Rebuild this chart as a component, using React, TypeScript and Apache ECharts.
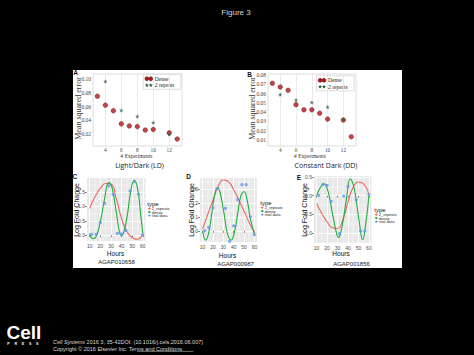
import React, { useEffect, useRef } from "react";
import * as echarts from "echarts";

// ---------- Panels A / B : mean squared error vs # experiments ----------
const experiments = [3, 4, 5, 6, 7, 8, 9, 10, 12, 13];
const denseLD = [0.075, 0.062, 0.054, 0.035, 0.032, 0.031, 0.026, 0.027, 0.022, 0.013];
const denseDD = [0.071, 0.067, 0.0635, 0.048, 0.0425, 0.0425, 0.0388, 0.0325, 0.0315, 0.0135];
const repeatExperiments = [4, 6, 8, 10, 12];
const repeatsLD = [0.0965, 0.0545, 0.046, 0.037, 0.02];
const repeatsDD = [0.059, 0.053, 0.0505, 0.0455, 0.0323];
const experimentTicks = [4, 6, 8, 10, 12];
const mseTicksLD = [0.02, 0.04, 0.06, 0.08, 0.1];
const mseTicksDD = [0.01, 0.02, 0.03, 0.04, 0.05, 0.06, 0.07, 0.08];

// ---------- Panels C / D / E : log fold change vs hours ----------
const hourTicks = [10, 20, 30, 40, 50, 60];
const hourMinorTicks = [15, 25, 35, 45, 55];

// C  AGAP010658
const cRealHours = [12, 16, 20, 24, 28, 32, 36, 40, 44, 48, 52, 56, 60];
const cRealValues = [0.03, 0.03, 0.44, 1.1, 1.71, 1.41, 0.06, 0.05, 0.17, 1.53, 1.85, 1.41, 0.02];
const cRepeatHours = [10, 15, 20, 25, 30, 35, 40, 45, 50, 55, 60];
const cRepeatValues = [0.93, 1.33, 1.62, 1.79, 1.77, 1.27, 0.58, 0.12, -0.09, -0.14, 0.06];
const cDenseHours = [10, 13, 16, 20, 24, 28, 31, 35, 38, 40, 42, 45, 49, 52, 55, 58, 60];
const cDenseValues = [0.06, -0.12, -0.05, 0.46, 1.25, 1.82, 1.65, 0.81, 0.12, -0.02, 0.1, 0.6, 1.6, 1.9, 1.62, 0.7, 0.06];

// D  AGAP000987
const dRealHours = [12, 16, 20, 24, 32, 36, 40, 44, 48, 52, 56, 60];
const dRealValues = [0.0, 0.024, 0.165, 0.3, 0.16, -0.075, 0.035, 0.223, 0.33, 0.33, 0.099, -0.028];
const dRepeatHours = [10, 15, 20, 25, 30, 35, 40, 45, 50, 55, 60];
const dRepeatValues = [0.012, 0.118, 0.22, 0.317, 0.364, 0.352, 0.294, 0.22, 0.14, 0.06, -0.01];
const dDenseHours = [10, 13, 16, 19, 22, 24.5, 27, 31, 34, 37.5, 41, 44, 47, 50, 53, 56, 60];
const dDenseValues = [0.0, -0.066, -0.01, 0.13, 0.27, 0.31, 0.27, 0.11, -0.02, -0.066, 0.0, 0.13, 0.25, 0.28, 0.22, 0.09, -0.023];

// E  AGAP001856
const eRealHours = [12, 16, 20, 24, 32, 36, 40, 48, 52, 56, 60];
const eRealValues = [0.01, 0.3, 0.28, -0.15, -1.02, -0.01, 0.25, -0.11, -0.95, -0.95, 0.03];
const eRepeatHours = [10, 15, 20, 25, 30, 35, 40, 45, 50, 55, 60];
const eRepeatValues = [-0.21, -0.48, -0.7, -0.86, -0.88, -0.66, -0.17, 0.23, 0.37, 0.32, 0.05];
const eDenseHours = [10, 14, 17, 20, 23, 26, 29, 31, 33, 36, 39, 42, 45, 48, 51, 54, 57, 60];
const eDenseValues = [0.0, 0.24, 0.32, 0.2, -0.15, -0.6, -1.0, -1.12, -1.0, -0.55, 0.0, 0.45, 0.3, -0.15, -0.75, -1.18, -0.75, 0.0];

const RED = "#ea6a60";
const GREEN = "#1fae3a";
const BLUE = "#5f95f5";
const SERIF = "Liberation Serif";
const SANS = "Liberation Sans";
const STAR =
  "path://M0,-10L2.35,-3.24L9.51,-3.09L3.8,1.24L5.88,8.09L0,4L-5.88,8.09L-3.8,1.24L-9.51,-3.09L-2.35,-3.24Z";

const pairs = (xs: number[], ys: number[]) => xs.map((x, i) => [x, ys[i]]);

function starPoints(cx: number, cy: number, r: number) {
  const pts: number[][] = [];
  for (let k = 0; k < 10; k++) {
    const rad = k % 2 === 0 ? r : r * 0.42;
    const a = -Math.PI / 2 + (k * Math.PI) / 5;
    pts.push([cx + rad * Math.cos(a), cy + rad * Math.sin(a)]);
  }
  return pts;
}

function mseXAxis(gridIndex: number) {
  return {
    type: "value",
    gridIndex,
    min: 2.45,
    max: 13.6,
    axisLine: { show: false },
    axisTick: { show: false, customValues: experimentTicks },
    axisLabel: { customValues: experimentTicks, fontSize: 5.3, color: "#444", fontFamily: SERIF, margin: 1 },
    splitLine: { show: true, lineStyle: { color: "#e4e4e4", width: 0.8 } },
  };
}
function mseYAxis(gridIndex: number, min: number, max: number, ticks: number[]) {
  return {
    type: "value",
    gridIndex,
    min,
    max,
    axisLine: { show: false },
    axisTick: { show: false, customValues: ticks },
    axisLabel: {
      customValues: ticks,
      fontSize: 5.5,
      color: "#444",
      fontFamily: SERIF,
      margin: 2,
      formatter: (v: number) => v.toFixed(2),
    },
    splitLine: { show: false },
  };
}
function hoursAxes(gridIndex: number) {
  return [
    {
      type: "value",
      gridIndex,
      min: 7.5,
      max: 62.5,
      axisLine: { show: false },
      axisTick: { show: true, customValues: hourTicks, length: 2, lineStyle: { color: "#333", width: 0.6 } },
      axisLabel: { customValues: hourTicks, fontSize: 5, color: "#4d4d4d", fontFamily: SANS, margin: 2 },
      splitLine: { show: true, lineStyle: { color: "#fff", width: 0.9 } },
    },
    {
      type: "value",
      gridIndex,
      min: 7.5,
      max: 62.5,
      position: "bottom",
      axisLine: { show: false },
      axisTick: { show: false, customValues: hourMinorTicks },
      axisLabel: { show: false },
      splitLine: { show: true, lineStyle: { color: "#fff", width: 0.45 } },
    },
  ];
}
function lfcAxes(gridIndex: number, min: number, max: number, ticks: number[], minor: number[]) {
  return [
    {
      type: "value",
      gridIndex,
      min,
      max,
      axisLine: { show: false },
      axisTick: { show: true, customValues: ticks, length: 2, lineStyle: { color: "#333", width: 0.6 } },
      axisLabel: {
        customValues: ticks,
        fontSize: 5,
        color: "#4d4d4d",
        fontFamily: SANS,
        margin: 2,
        formatter: (v: number) => v.toFixed(1),
      },
      splitLine: { show: true, lineStyle: { color: "#fff", width: 0.9 } },
    },
    {
      type: "value",
      gridIndex,
      min,
      max,
      position: "left",
      axisLine: { show: false },
      axisTick: { show: false, customValues: minor },
      axisLabel: { show: false },
      splitLine: { show: true, lineStyle: { color: "#fff", width: 0.45 } },
    },
  ];
}

function mseSeries(xi: number, dense: number[], repeats: number[]) {
  return [
    {
      type: "scatter",
      name: "Dense",
      xAxisIndex: xi,
      yAxisIndex: xi,
      symbol: "circle",
      symbolSize: 4.6,
      itemStyle: { color: "#b3161c", borderColor: "#5c0a0a", borderWidth: 0.5 },
      data: pairs(experiments, dense),
      z: 3,
    },
    {
      type: "scatter",
      name: "2 repeats",
      xAxisIndex: xi,
      yAxisIndex: xi,
      symbol: STAR,
      symbolSize: 4.4,
      itemStyle: { color: "#2f5e3c" },
      data: pairs(repeatExperiments, repeats),
      z: 4,
    },
  ];
}
function geneSeries(
  xi: number,
  rh: number[], rv: number[],
  dh: number[], dv: number[],
  ph: number[], pv: number[]
) {
  return [
    {
      type: "line",
      name: "2_repeats",
      xAxisIndex: xi,
      yAxisIndex: xi,
      smooth: 0.5,
      showSymbol: false,
      lineStyle: { color: RED, width: 1.1 },
      data: pairs(rh, rv),
    },
    {
      type: "line",
      name: "dense",
      xAxisIndex: xi,
      yAxisIndex: xi,
      smooth: 0.5,
      showSymbol: false,
      lineStyle: { color: GREEN, width: 1.1 },
      data: pairs(dh, dv),
    },
    {
      type: "scatter",
      name: "real data",
      xAxisIndex: xi,
      yAxisIndex: xi,
      symbol: "circle",
      symbolSize: 3.2,
      itemStyle: { color: BLUE },
      data: pairs(ph, pv),
      z: 5,
    },
  ];
}

function txt(text: string, x: number, y: number, size: number, extra: any = {}, style: any = {}) {
  return {
    type: "text",
    x,
    y,
    ...extra,
    style: {
      text,
      fontSize: size,
      fontFamily: SANS,
      fill: "#111",
      textAlign: "center",
      textVerticalAlign: "middle",
      ...style,
    },
  };
}

function mseLegend(x: number, y: number) {
  const els: any[] = [
    { type: "rect", shape: { x, y, width: 37.5, height: 15 }, style: { fill: "#fff", stroke: "#cfcfcf", lineWidth: 0.7 } },
  ];
  const r1 = y + 4.5;
  const r2 = y + 11;
  [x + 3.6, x + 7.5].forEach((cx) => {
    els.push({ type: "circle", shape: { cx, cy: r1, r: 2 }, style: { fill: "#b3161c", stroke: "#5c0a0a", lineWidth: 0.5 } });
    els.push({ type: "polygon", shape: { points: starPoints(cx, r2, 2.2) }, style: { fill: "#2f5e3c" } });
  });
  els.push(txt("Dense", x + 11.5, r1, 5.5, {}, { textAlign: "left", fontFamily: SERIF, fill: "#222" }));
  els.push(txt("2 repeats", x + 11.5, r2, 5.5, {}, { textAlign: "left", fontFamily: SERIF, fill: "#222" }));
  return els;
}

function typeLegend(x: number, y: number) {
  const els: any[] = [txt("type", x, y, 6, {}, { textAlign: "left", fill: "#111" })];
  const items: [string, string][] = [
    ["2_repeats", RED],
    ["dense", GREEN],
    ["real data", BLUE],
  ];
  items.forEach(([label, color], i) => {
    const cy = y + 4.3 + i * 3.5;
    els.push({ type: "line", shape: { x1: x + 0.6, y1: cy, x2: x + 3.4, y2: cy }, style: { stroke: color, lineWidth: 0.8 } });
    els.push({ type: "circle", shape: { cx: x + 2, cy, r: 0.9 }, style: { fill: color } });
    els.push(txt(label, x + 4.5, cy, 4, {}, { textAlign: "left", fill: "#222" }));
  });
  return els;
}

function buildOption() {
  const xAxis: any[] = [mseXAxis(0), mseXAxis(1), ...hoursAxes(2), ...hoursAxes(3), ...hoursAxes(4)];
  const yAxis: any[] = [
    mseYAxis(0, 0.003, 0.107, mseTicksLD),
    mseYAxis(1, 0.0036, 0.081, mseTicksDD),
    ...lfcAxes(2, -0.2, 1.98, [0, 0.5, 1, 1.5], [0.25, 0.75, 1.25, 1.75]),
    ...lfcAxes(3, -0.08, 0.378, [0, 0.1, 0.2, 0.3], [0.05, 0.15, 0.25, 0.35]),
    ...lfcAxes(4, -1.27, 0.53, [-1, -0.5, 0, 0.5], [-1.25, -0.75, -0.25, 0.25]),
  ];
  const grid = [
    { left: 93, top: 74, width: 89, height: 72, show: true, backgroundColor: "#fff", borderColor: "#d4d4d4", borderWidth: 0.8 },
    { left: 268, top: 74, width: 88, height: 72, show: true, backgroundColor: "#fff", borderColor: "#d4d4d4", borderWidth: 0.8 },
    { left: 87, top: 178, width: 58.5, height: 63, show: true, backgroundColor: "#e8e8e8", borderWidth: 0 },
    { left: 200, top: 178, width: 57, height: 64, show: true, backgroundColor: "#e8e8e8", borderWidth: 0 },
    { left: 314, top: 176, width: 57.5, height: 67, show: true, backgroundColor: "#e8e8e8", borderWidth: 0 },
  ];
  const series: any[] = [
    ...mseSeries(0, denseLD, repeatsLD),
    ...mseSeries(1, denseDD, repeatsDD),
    ...geneSeries(2, cRepeatHours, cRepeatValues, cDenseHours, cDenseValues, cRealHours, cRealValues),
    ...geneSeries(4, dRepeatHours, dRepeatValues, dDenseHours, dDenseValues, dRealHours, dRealValues),
    ...geneSeries(6, eRepeatHours, eRepeatValues, eDenseHours, eDenseValues, eRealHours, eRealValues),
  ];
  const rot = { rotation: Math.PI / 2 };
  const graphic: any[] = [
    { type: "rect", z: -100, shape: { x: 73, y: 70, width: 329, height: 198 }, style: { fill: "#fff" } },
    txt("Figure 3", 236, 12.5, 8, {}, { fill: "#d8d8d8" }),
    // panel letters
    txt("A", 75.7, 72.5, 6.5, {}, { fontWeight: "bold" }),
    txt("B", 249.5, 74.3, 6.5, {}, { fontWeight: "bold" }),
    txt("C", 74.8, 176, 6.5, {}, { fontWeight: "bold" }),
    txt("D", 188.5, 176, 6.5, {}, { fontWeight: "bold" }),
    txt("E", 299, 177.3, 6.5, {}, { fontWeight: "bold" }),
    // A / B titles
    txt("Mean squared error", 78.7, 108.5, 8, rot, { fontFamily: SERIF, fill: "#333" }),
    txt("Mean squared error", 252, 108.5, 8, rot, { fontFamily: SERIF, fill: "#333" }),
    txt("# Experiments", 136.5, 155.6, 5.5, {}, { fontFamily: SERIF, fill: "#333" }),
    txt("# Experiments", 310, 155.6, 5.5, {}, { fontFamily: SERIF, fill: "#333" }),
    txt("Light/Dark (LD)", 139.5, 165.5, 7, {}, { fontFamily: "Open Sans", fill: "#222" }),
    txt("Constant Dark (DD)", 326, 165.5, 7, {}, { fontFamily: "Open Sans", fill: "#222" }),
    ...mseLegend(143.3, 74.3),
    ...mseLegend(316.5, 75.8),
    // C / D / E titles
    txt("Log Fold Change", 76.5, 210, 7, rot),
    txt("Log Fold Change", 191.5, 210, 7, rot),
    txt("Log Fold Change", 304, 210, 7, rot),
    txt("Hours", 115.5, 253.3, 6.5),
    txt("Hours", 227.5, 255, 6.5),
    txt("Hours", 341, 253.5, 6.5),
    txt("AGAP010658", 116.5, 262.3, 6, {}, { fill: "#222" }),
    txt("AGAP000987", 235.5, 264, 6, {}, { fill: "#222" }),
    txt("AGAP001856", 351.5, 264, 6, {}, { fill: "#222" }),
    ...typeLegend(147.3, 204.3),
    ...typeLegend(260.3, 203.3),
    ...typeLegend(374.3, 210.3),
    // footer
    txt("Cell", 6.5, 332, 19, {}, { fill: "#fff", textAlign: "left", fontWeight: "bold" }),
    ...["P", "R", "E", "S", "S"].map((c, i) => txt(c, 8.5 + i * 7.2, 344.3, 3.6, {}, { fill: "#fff", fontWeight: "bold" })),
    {
      type: "text",
      x: 53,
      y: 341.8,
      style: {
        text: "{i|Cell Systems} 2016 3, 35-42DOI: (10.1016/j.cels.2016.06.007)",
        fontSize: 5.5,
        fontFamily: SANS,
        fill: "#dcdcdc",
        textAlign: "left",
        textVerticalAlign: "middle",
        rich: { i: { fontStyle: "italic", fontSize: 5.5, fontFamily: SANS, fill: "#dcdcdc" } },
      },
    },
    txt("Copyright © 2016 Elsevier Inc. Terms and Conditions", 53, 348.5, 5.5, {}, { fill: "#dcdcdc", textAlign: "left" }),
    { type: "line", shape: { x1: 137, y1: 351.4, x2: 193.3, y2: 351.4 }, style: { stroke: "#dcdcdc", lineWidth: 0.5 } },
  ];
  return {
    animation: false,
    backgroundColor: "#000",
    grid,
    xAxis,
    yAxis,
    series,
    graphic,
  };
}

export default function App() {
  const ref = useRef<HTMLDivElement>(null);
  useEffect(() => {
    if (!ref.current) return;
    const chart = echarts.init(ref.current, null, { renderer: "svg" });
    chart.setOption(buildOption() as any);
    return () => chart.dispose();
  }, []);
  return (
    <div
      ref={ref}
      style={{ position: "fixed", left: 0, top: 0, width: 474, height: 355, background: "#000" }}
    />
  );
}
